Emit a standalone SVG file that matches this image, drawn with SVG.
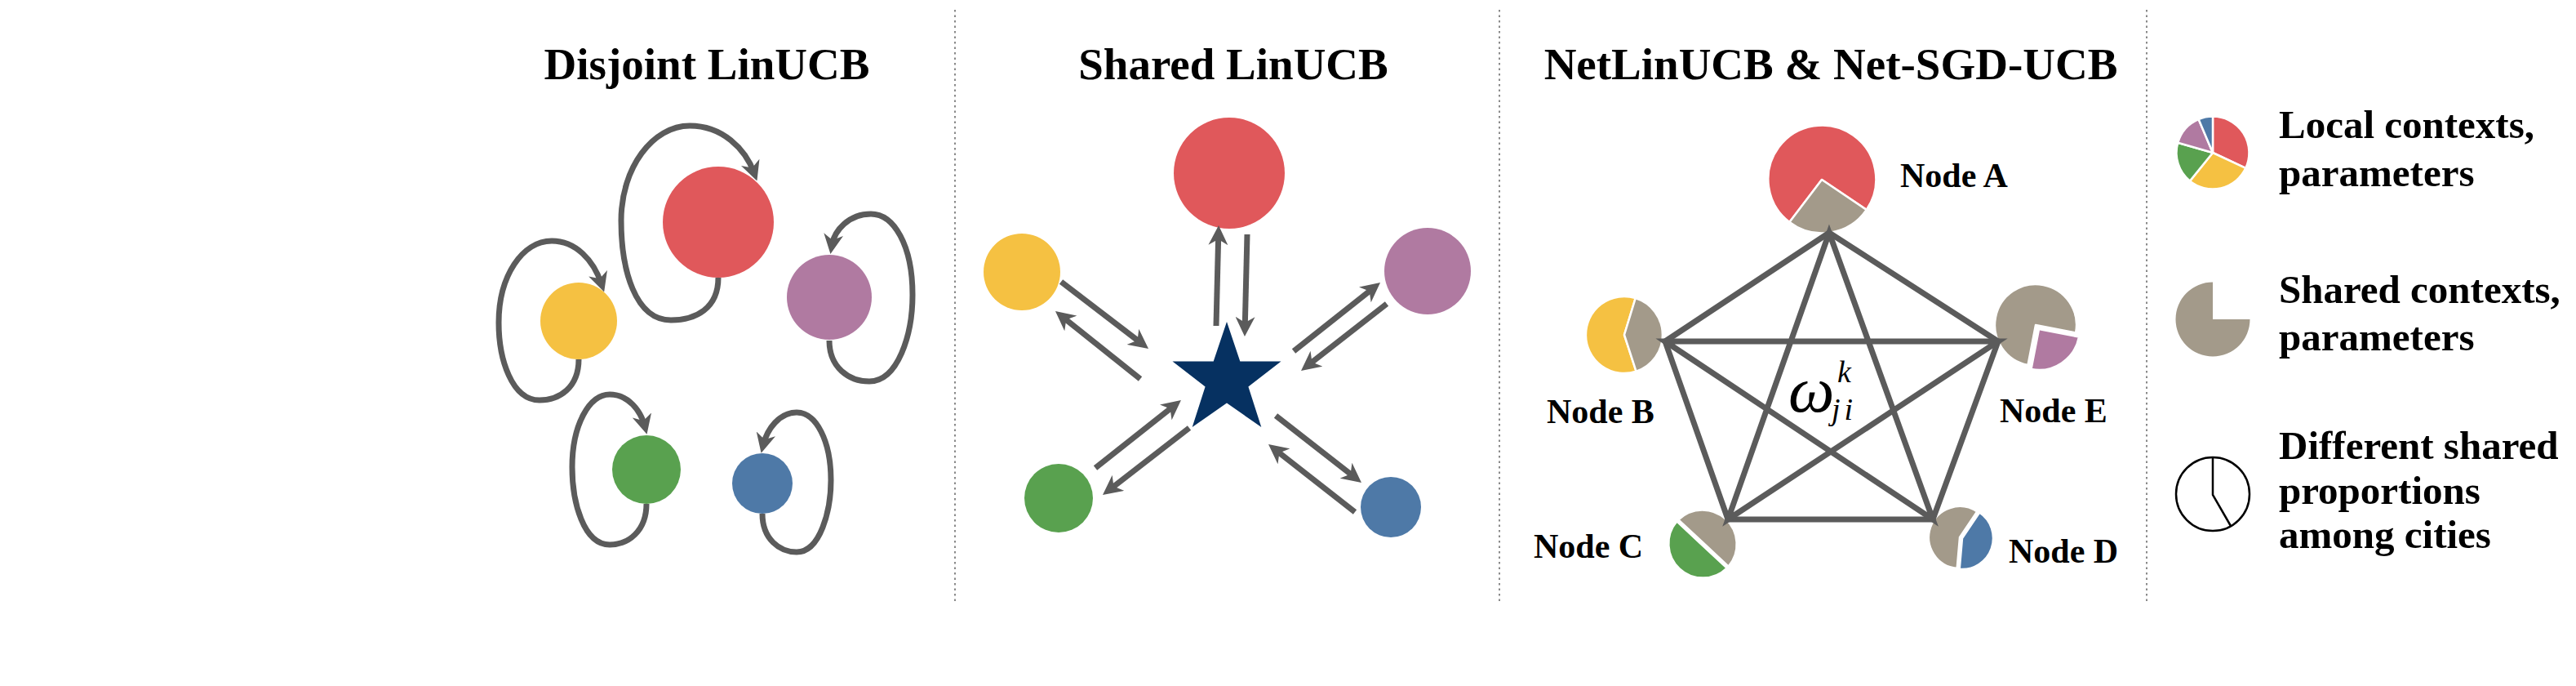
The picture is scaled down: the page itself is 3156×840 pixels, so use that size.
<svg xmlns="http://www.w3.org/2000/svg" width="3156" height="840" viewBox="0 0 3156 840">
<style>
.title{font-family:"Liberation Serif","Times New Roman",serif;font-weight:bold;font-size:55px;fill:#000;text-anchor:middle}
.lbl{font-family:"Liberation Serif","Times New Roman",serif;font-weight:bold;font-size:42px;fill:#000}
.leg{font-family:"Liberation Serif","Times New Roman",serif;font-weight:bold;font-size:49px;fill:#000}
.math{font-family:"Liberation Serif","Times New Roman",serif;font-style:italic;fill:#000}
.sep{stroke:#8a8a8a;stroke-width:2;stroke-dasharray:2.5 4;fill:none}
.loop{fill:none;stroke:#5b5b5b;stroke-width:7;marker-end:url(#ah)}
.arr{fill:none;stroke:#5b5b5b;stroke-width:7;marker-end:url(#ah)}
.edge{stroke:#5b5b5b;stroke-width:7;fill:none;stroke-linecap:round}
.sl{stroke:#fff;stroke-width:2.5;stroke-linejoin:round}
.red{fill:#E0585B}.yel{fill:#F5C142}.pur{fill:#B07AA1}.grn{fill:#59A14F}.blu{fill:#4E79A7}.gry{fill:#A39A8A}
</style>
<defs>
<marker id="ah" viewBox="0 0 24 24" markerWidth="24" markerHeight="24" refX="14" refY="12" orient="auto" markerUnits="userSpaceOnUse">
<path d="M0,0 L24,12 L0,24 L7,12 Z" fill="#5b5b5b"/>
</marker>
</defs>
<rect width="3156" height="840" fill="#fff"/>

<g id="separators">
<line class="sep" x1="1170" y1="12" x2="1170" y2="736"/>
<line class="sep" x1="1837" y1="12" x2="1837" y2="736"/>
<line class="sep" x1="2630" y1="12" x2="2630" y2="736"/>
</g>

<g id="titles">
<text class="title" x="866" y="97">Disjoint LinUCB</text>
<text class="title" x="1511" y="97">Shared LinUCB</text>
<text class="title" x="2243" y="97">NetLinUCB &amp; Net-SGD-UCB</text>
</g>

<!-- Panel 1: Disjoint LinUCB -->
<g id="p1-red"><circle class="red" cx="880" cy="272" r="68"/></g>
<g id="p1-yellow"><circle class="yel" cx="709" cy="393" r="47"/></g>
<g id="p1-purple"><circle class="pur" cx="1016" cy="364" r="52"/></g>
<g id="p1-green"><circle class="grn" cx="792" cy="575" r="42"/></g>
<g id="p1-blue"><circle class="blu" cx="934" cy="592" r="37"/></g>
<g id="p1-connectors">
<path class="loop" d="M880,340 C880,378 852,392 822,392 C778,392 761,330 761,270 C761,205 800,154 845,154 C885,154 913,182 924,212"/>
<path class="loop" d="M709,440 C709,475 685,490 661,490 C627,490 611,440 611,395 C611,338 640,295 676,295 C705,295 727,318 737,348"/>
<path class="loop" d="M1016,417 C1016,450 1040,467 1065,467 C1100,467 1118,410 1118,361 C1118,300 1095,262 1067,262 C1040,262 1022,282 1019,301"/>
<path class="loop" d="M792,617 C792,650 770,667 747,667 C715,667 701,615 701,572 C701,520 722,483 747,483 C770,483 785,503 790,522"/>
<path class="loop" d="M934,629 C934,660 955,676 976,676 C1005,676 1018,625 1018,588 C1018,540 1000,505 976,505 C955,505 940,525 935,545"/>
</g>

<!-- Panel 2: Shared LinUCB -->
<g id="p2-red"><circle class="red" cx="1506" cy="212" r="68"/></g>
<g id="p2-yellow"><circle class="yel" cx="1252" cy="333" r="47"/></g>
<g id="p2-purple"><circle class="pur" cx="1749" cy="332" r="53"/></g>
<g id="p2-green"><circle class="grn" cx="1297" cy="610" r="42"/></g>
<g id="p2-blue"><circle class="blu" cx="1704" cy="621" r="37"/></g>
<g id="p2-star"><polygon fill="#063161" points="1503,394 1519.3,442.6 1569.5,442.6 1529.4,473.4 1545.3,523 1503,493.6 1460.7,523 1476.6,473.4 1436.5,442.6 1486.7,442.6"/></g>
<g id="p2-connectors">
<line class="arr" x1="1490" y1="399" x2="1492.8" y2="286"/>
<line class="arr" x1="1528" y1="287" x2="1525.2" y2="402"/>
<line class="arr" x1="1300" y1="345" x2="1399.1" y2="420.9"/>
<line class="arr" x1="1397" y1="464" x2="1300.8" y2="387.2"/>
<line class="arr" x1="1585" y1="430" x2="1683.2" y2="352.2"/>
<line class="arr" x1="1699" y1="372" x2="1601.9" y2="447.8"/>
<line class="arr" x1="1342" y1="573" x2="1439.1" y2="496.2"/>
<line class="arr" x1="1457" y1="524" x2="1358.9" y2="599.9"/>
<line class="arr" x1="1563" y1="509" x2="1660.1" y2="584.8"/>
<line class="arr" x1="1660" y1="627" x2="1561.9" y2="550.2"/>
</g>

<!-- Panel 3: NetLinUCB -->
<g id="nodeA">
<path class="red sl" d="M2232,220 L2192.4,272 A66,66 0 1 1 2286.7,256.9 Z"/>
<path class="gry sl" d="M2232,220 L2286.7,256.9 A66,66 0 0 1 2192.4,272 Z"/>
<text class="lbl" x="2328" y="229">Node A</text>
</g>
<g id="nodeB">
<path class="yel sl" d="M1990,410 L2004.5,454.7 A47,47 0 1 1 2003.7,365.1 Z"/>
<path class="gry sl" d="M1990,410 L2003.7,365.1 A47,47 0 0 1 2004.5,454.7 Z"/>
<text class="lbl" x="1895" y="518">Node B</text>
</g>
<g id="nodeE">
<path class="gry sl" d="M2494,398 L2484.5,447.1 A50,50 0 1 1 2543.1,407.5 Z"/>
<path class="pur sl" transform="translate(4,5)" d="M2494,398 L2543.1,407.5 A50,50 0 0 1 2484.5,447.1 Z"/>
<text class="lbl" x="2450" y="517">Node E</text>
</g>
<g id="nodeC">
<path class="gry sl" d="M2087,665 L2056.3,636.4 A42,42 0 0 1 2117.7,693.6 Z"/>
<path class="grn sl" transform="translate(-2,2)" d="M2087,665 L2117.7,693.6 A42,42 0 0 1 2056.3,636.4 Z"/>
<text class="lbl" x="1879" y="683">Node C</text>
</g>
<g id="nodeD">
<path class="gry sl" d="M2401,658 L2397.7,695.9 A38,38 0 1 1 2422.2,626.5 Z"/>
<path class="blu sl" transform="translate(3,1)" d="M2401,658 L2422.2,626.5 A38,38 0 0 1 2397.7,695.9 Z"/>
<text class="lbl" x="2461" y="689">Node D</text>
</g>
<g id="p3-connectors">
<path class="edge" d="M2241,285 L2040,418 L2117,636 L2368,636 L2448,418 Z"/>
<path class="edge" d="M2241,285 L2117,636 L2448,418 L2040,418 L2368,636 Z"/>
</g>
<g id="weight">
<text class="math" x="2191" y="504" font-size="80">ω</text>
<text class="math" x="2251" y="468" font-size="38">k</text>
<text class="math" x="2244" y="514" font-size="38" letter-spacing="5">ji</text>
</g>

<!-- Panel 4: legend -->
<g id="legend-local">
<path class="red sl" d="M2711,187 L2711,142.5 A44.5,44.5 0 0 1 2751.3,205.8 Z"/>
<path class="yel sl" d="M2711,187 L2751.3,205.8 A44.5,44.5 0 0 1 2683,221.6 Z"/>
<path class="grn sl" d="M2711,187 L2683,221.6 A44.5,44.5 0 0 1 2668.2,174.7 Z"/>
<path class="pur sl" d="M2711,187 L2668.2,174.7 A44.5,44.5 0 0 1 2693.6,146 Z"/>
<path class="blu sl" d="M2711,187 L2693.6,146 A44.5,44.5 0 0 1 2711,142.5 Z"/>
<text class="leg" x="2792" y="169">Local contexts,</text>
<text class="leg" x="2792" y="228">parameters</text>
</g>
<g id="legend-shared">
<path class="gry" d="M2711,391 L2756.5,391 A45.5,45.5 0 1 1 2711,345.5 Z"/>
<text class="leg" x="2792" y="371">Shared contexts,</text>
<text class="leg" x="2792" y="429">parameters</text>
</g>
<g id="legend-proportion">
<circle cx="2711" cy="605" r="45" fill="none" stroke="#000" stroke-width="2.5"/>
<path d="M2711,560 L2711,606 L2733,644" fill="none" stroke="#000" stroke-width="2.5"/>
<text class="leg" x="2792" y="562">Different shared</text>
<text class="leg" x="2792" y="617">proportions</text>
<text class="leg" x="2792" y="671">among cities</text>
</g>
</svg>
